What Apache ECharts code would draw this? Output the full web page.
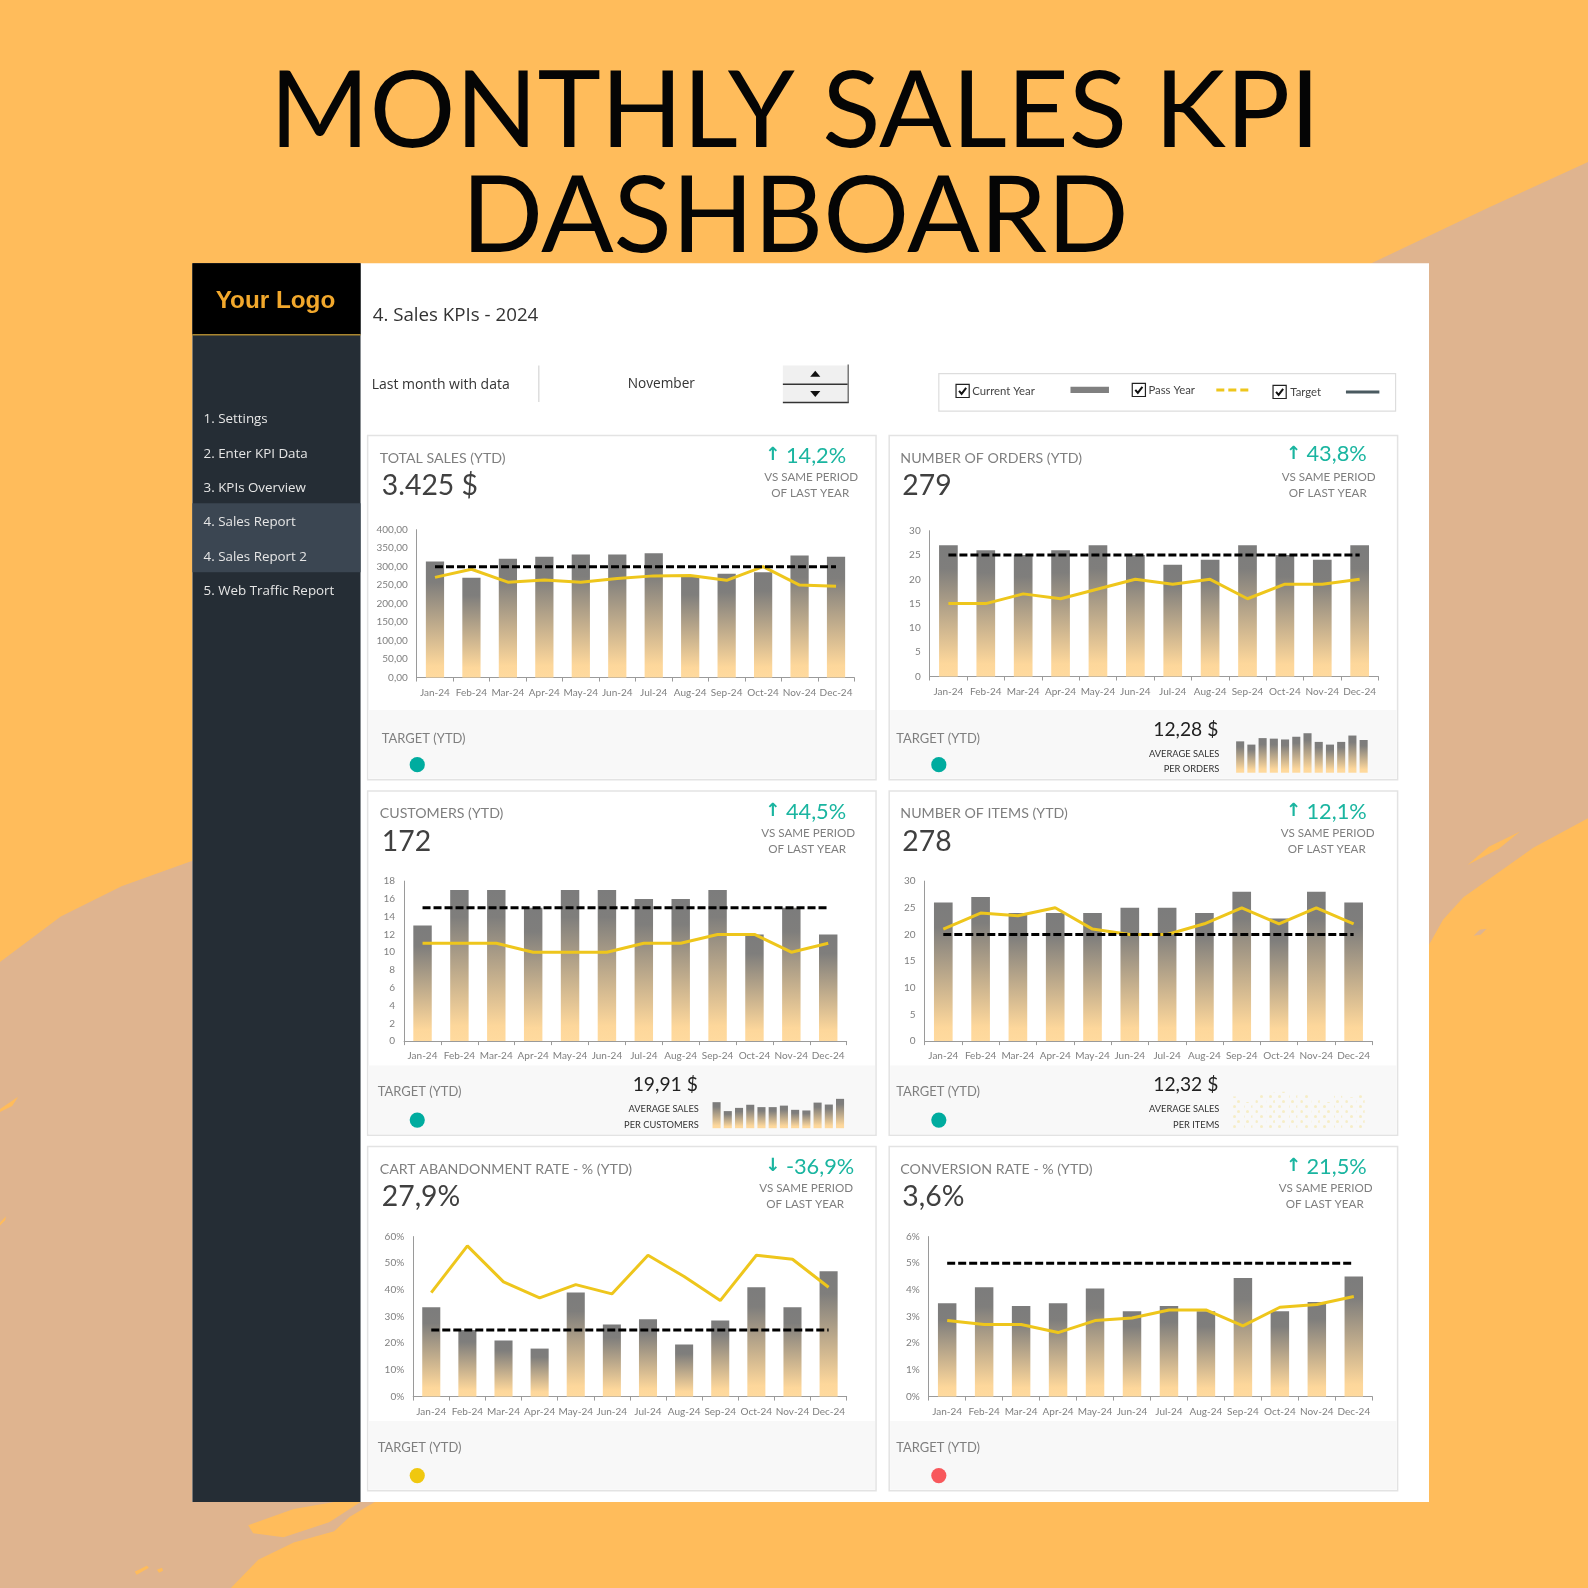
<!DOCTYPE html>
<html>
<head>
<meta charset="utf-8">
<title>Monthly Sales KPI Dashboard</title>
<script src="https://cdn.jsdelivr.net/npm/echarts@6/dist/echarts.min.js"></script>
<style>
html, body { margin: 0; padding: 0; background: #FFBC5B; }
#main { width: 1588px; height: 1588px; }
</style>
</head>
<body>
<div id="main"></div>
<script>
var months = ['Jan-24', 'Feb-24', 'Mar-24', 'Apr-24', 'May-24', 'Jun-24', 'Jul-24', 'Aug-24', 'Sep-24', 'Oct-24', 'Nov-24', 'Dec-24'];

var salesCurrent = [314, 270, 321, 327, 333, 333, 336, 273, 281, 285, 330, 327];
var salesPast = [271, 293, 258, 264, 258, 268, 275, 276, 263, 300, 250, 247];
var salesTarget = [300, 300, 300, 300, 300, 300, 300, 300, 300, 300, 300, 300];

var ordersCurrent = [27, 26, 25, 26, 27, 25, 23, 24, 27, 25, 24, 27];
var ordersPast = [15, 15, 17, 16, 18, 20, 19, 20, 16, 19, 19, 20];
var ordersTarget = [25, 25, 25, 25, 25, 25, 25, 25, 25, 25, 25, 25];

var customersCurrent = [13, 17, 17, 15, 17, 17, 16, 16, 17, 12, 15, 12];
var customersPast = [11, 11, 11, 10, 10, 10, 11, 11, 12, 12, 10, 11];
var customersTarget = [15, 15, 15, 15, 15, 15, 15, 15, 15, 15, 15, 15];

var itemsCurrent = [26, 27, 24, 24, 24, 25, 25, 24, 28, 23, 28, 26];
var itemsPast = [21, 24, 23.5, 25, 21, 20, 20, 22, 25, 22, 25, 22];
var itemsTarget = [20, 20, 20, 20, 20, 20, 20, 20, 20, 20, 20, 20];

var cartCurrent = [33.5, 25, 21, 18, 39, 27, 29, 19.5, 28.5, 41, 33.5, 47];
var cartPast = [39, 56.5, 43, 37, 42, 38.5, 53, 45, 36, 53, 51.5, 41];
var cartTarget = [25, 25, 25, 25, 25, 25, 25, 25, 25, 25, 25, 25];

var conversionCurrent = [3.5, 4.1, 3.4, 3.5, 4.05, 3.2, 3.4, 3.2, 4.45, 3.2, 3.55, 4.5];
var conversionPast = [2.85, 2.7, 2.7, 2.4, 2.85, 2.95, 3.25, 3.25, 2.65, 3.35, 3.45, 3.75];
var conversionTarget = [5, 5, 5, 5, 5, 5, 5, 5, 5, 5, 5, 5];

var avgPerOrder = [11.6, 10.4, 12.8, 12.6, 12.3, 13.3, 14.6, 11.4, 10.4, 11.4, 13.75, 12.1];
var avgPerCustomer = [24.2, 15.9, 18.9, 21.8, 19.6, 19.6, 21, 17.1, 16.5, 23.8, 22, 27.3];
var avgPerItem = [12.1, 10, 13.4, 13.6, 13.9, 13.3, 13.4, 11.4, 10, 12.4, 11.8, 12.6];

var menuItems = ['1. Settings', '2. Enter KPI Data', '3. KPIs Overview', '4. Sales Report', '4. Sales Report 2', '5. Web Traffic Report'];

// layout numbers are measured on a 1568 wide view, K brings them to the 1588 page
var K = 1588 / 1568;
var ORANGE = '#FFBC5B', TAN = '#DFB48F', TEAL = '#1AB5A0', GREY = '#7F7F7F', DARK = '#404040';
var BODY = 'Lato, "Open Sans", sans-serif';
var g = [];

function pts(list) {
    return list.map(function (p) { return [p[0] * K, p[1] * K]; });
}
function poly(list, color, smooth) {
    g.push({ type: 'polygon', silent: true, shape: { points: pts(list), smooth: smooth || 0 }, style: { fill: color } });
}
function box(x, y, w, h, fill, stroke, lw) {
    g.push({ type: 'rect', silent: true, shape: { x: x * K, y: y * K, width: w * K, height: h * K },
        style: { fill: fill || 'transparent', stroke: stroke || null, lineWidth: lw || 0 } });
}
function seg(x1, y1, x2, y2, color, lw, dash) {
    g.push({ type: 'line', silent: true, shape: { x1: x1 * K, y1: y1 * K, x2: x2 * K, y2: y2 * K },
        style: { stroke: color, lineWidth: lw, lineDash: dash || null } });
}
function dot(x, y, r, color) {
    g.push({ type: 'circle', silent: true, shape: { cx: x * K, cy: y * K, r: r * K }, style: { fill: color } });
}
function txt(x, y, text, size, color, align, font, weight) {
    g.push({ type: 'text', silent: true, z: 5, style: {
        x: x * K, y: (y + 1) * K, text: text, fontSize: size * K, fill: color,
        textAlign: align || 'left', textVerticalAlign: 'middle',
        fontFamily: font || BODY, fontWeight: weight || 'normal'
    } });
}

// background
box(0, 0, 1568, 1568, ORANGE);
poly([[1568, 160], [1470, 205], [1350, 262], [1350, 1000], [1412, 931], [1425, 908], [1445, 886], [1514, 837], [1568, 808]], TAN);
poly([[0, 950], [60, 905], [120, 875], [190, 850], [400, 850], [400, 1483], [370, 1483], [345, 1498], [330, 1512], [290, 1523], [255, 1540], [228, 1568], [0, 1568]], TAN);
poly([[1449, 854], [1470, 836], [1501, 821], [1480, 838]], ORANGE);
poly([[1455, 924], [1461, 918], [1468, 917], [1462, 923]], TAN);
poly([[356, 1483], [325, 1503], [280, 1518], [250, 1514], [245, 1506], [290, 1490], [330, 1483]], ORANGE);
poly([[0, 1095], [18, 1083], [12, 1092], [0, 1098]], ORANGE);
poly([[0, 1207], [6, 1201], [5, 1205], [0, 1210]], ORANGE);
poly([[133, 1552], [145, 1546], [147, 1548], [135, 1555]], ORANGE);
poly([[155, 1550], [160, 1548], [161, 1551], [157, 1553]], ORANGE);

// big title
txt(785, 109.5, 'MONTHLY SALES KPI', 106, '#050505', 'center');
txt(785, 214, 'DASHBOARD', 106, '#050505', 'center');

// sheet and sidebar
box(190, 260, 1221, 1223, '#FFFFFF');
box(190, 260, 166, 1223, '#252D35');
box(190, 260, 166, 70, '#000000');
seg(190, 330.5, 356, 330.5, '#A9852F', 1.5);
txt(272, 297, 'Your Logo', 24, '#F2A82C', 'center', '"Liberation Sans"', 'bold');
box(190, 497, 166, 68, '#3B4652');
menuItems.forEach(function (item, i) {
    txt(201, 413 + i * 34, item, 13.2, '#E6E6E6', 'left', '"Open Sans"');
});

// header row
txt(368, 310.5, '4. Sales KPIs - 2024', 18.5, '#333333', 'left', '"Open Sans"');
txt(367, 379, 'Last month with data', 13.8, '#333333', 'left', '"Open Sans"');
seg(532, 361, 532, 397, '#DDDDDD', 1.5);
txt(653, 378.5, 'November', 13.5, '#333333', 'center', '"Open Sans"');
box(773, 361, 64, 18, '#F0F0F0');
box(773, 380, 64, 17, '#F0F0F0');
seg(773, 379.5, 837, 379.5, '#333333', 1.5);
seg(773, 397.5, 838, 397.5, '#333333', 1.5);
seg(837.5, 360, 837.5, 398, '#555555', 1.2);
poly([[805, 366], [810, 372], [800, 372]], '#111111');
poly([[800, 386], [810, 386], [805, 392]], '#111111');

// fake legend box with the sheet's check boxes
function check(x, y) {
    box(x, y - 6.5, 13, 13, '#FFFFFF', '#222222', 1.2);
    g.push({ type: 'polyline', silent: true, z: 5, shape: { points: pts([[x + 3, y], [x + 5.5, y + 3], [x + 10, y - 3]]) },
        style: { stroke: '#111111', lineWidth: 2, fill: null } });
}
box(927, 369, 451, 37, '#FFFFFF', '#DDDDDD', 1.2);
check(944, 386);
txt(960, 385.5, 'Current Year', 11.2, '#444444');
box(1057, 382, 38, 6, '#808080');
check(1118, 385);
txt(1134, 384.5, 'Pass Year', 11.2, '#444444');
seg(1201, 385, 1235, 385, '#EEC61C', 3, [8, 4]);
check(1257, 387);
txt(1274, 386.5, 'Target', 11.2, '#444444');
seg(1329, 387, 1362, 387, '#4A5A60', 3);

function panelFrame(x, y) {
    box(x, y, 502, 340, '#FFFFFF', '#E3E3E3', 1.5);
    box(x + 1, y + 271, 500, 68, '#F8F8F8');
}
function panelText(p) {
    var y0 = p.y;
    txt(p.textX, y0 + 21.5, p.title, 14, GREY);
    txt(p.textX + 2, y0 + (p.bigDy || 49), p.big, 28, DARK);
    txt(p.arrowX, y0 + (p.changeDy || 19), p.arrow, 18, TEAL, 'center', '"DejaVu Sans"', 'bold');
    txt(p.arrowX + 13, y0 + (p.changeDy || 19.5), p.change, 21.5, TEAL);
    txt(p.vsX, y0 + (p.vsDy || 40.5), 'VS SAME PERIOD', 11.5, GREY, 'center');
    txt(p.vsX - 1, y0 + (p.vsDy || 40.5) + 16, 'OF LAST YEAR', 11.5, GREY, 'center');
    txt(p.targetX, y0 + p.targetDy - 0.5, 'TARGET (YTD)', 12.8, GREY);
    dot(p.dotX, y0 + p.dotDy, 7.5, p.dotColor);
    if (p.avg) {
        txt(p.avgX, y0 + p.avgDy - 0.5, p.avg, 19, '#222222', 'right');
        txt(p.avgX + 1, y0 + p.avgDy + 23.5, 'AVERAGE SALES', 9.2, '#333333', 'right');
        txt(p.avgX + 1, y0 + p.avgDy + 38.5, p.avgLabel, 9.2, '#333333', 'right');
    }
}

function fmtComma(v) { return v.toFixed(2).replace('.', ','); }
function fmtPct(v) { return v + '%'; }

var panels = [
    { x: 363, y: 430, textX: 375, title: 'TOTAL SALES (YTD)', big: '3.425 $', arrow: '↑', change: '14,2%', arrowX: 763, vsX: 801,
      targetX: 377, targetDy: 299, dotX: 412, dotDy: 325, dotColor: '#00AC9F',
      grid: [411.5, 843.5, 523, 669], current: salesCurrent, past: salesPast, target: salesTarget, max: 400, step: 50, fmt: fmtComma },
    { x: 878, y: 430, textX: 889, title: 'NUMBER OF ORDERS (YTD)', big: '279', arrow: '↑', change: '43,8%', arrowX: 1277, vsX: 1312, changeDy: 17.5,
      targetX: 885, targetDy: 299, dotX: 927, dotDy: 325, dotColor: '#00AC9F',
      avg: '12,28 $', avgLabel: 'PER ORDERS', avgX: 1203, avgDy: 290,
      grid: [918, 1361, 524, 668], current: ordersCurrent, past: ordersPast, target: ordersTarget, max: 30, step: 5,
      spark: avgPerOrder, sparkBox: [1219, 1352, 724, 763], sparkMax: 14.6 },
    { x: 363, y: 781, textX: 375, title: 'CUSTOMERS (YTD)', big: '172', arrow: '↑', change: '44,5%', arrowX: 763, vsX: 798,
      targetX: 373, targetDy: 297, dotX: 412, dotDy: 325, dotColor: '#00AC9F',
      avg: '19,91 $', avgLabel: 'PER CUSTOMERS', avgX: 689, avgDy: 290,
      grid: [399, 836, 870, 1028], current: customersCurrent, past: customersPast, target: customersTarget, max: 18, step: 2,
      spark: avgPerCustomer, sparkBox: [702, 835, 1085, 1114], sparkMax: 27.3 },
    { x: 878, y: 781, textX: 889, title: 'NUMBER OF ITEMS (YTD)', big: '278', arrow: '↑', change: '12,1%', arrowX: 1277, vsX: 1311,
      targetX: 885, targetDy: 297, dotX: 927, dotDy: 325, dotColor: '#00AC9F',
      avg: '12,32 $', avgLabel: 'PER ITEMS', avgX: 1203, avgDy: 290,
      grid: [913, 1355, 870, 1028], current: itemsCurrent, past: itemsPast, target: itemsTarget, max: 30, step: 5,
      spark: avgPerItem, sparkBox: [1216, 1349, 1078, 1114], sparkMax: 13.9, dotted: true },
    { x: 363, y: 1132, textX: 375, title: 'CART ABANDONMENT RATE - % (YTD)', big: '27,9%', arrow: '↓', change: '-36,9%', arrowX: 763, vsX: 796,
      targetX: 373, targetDy: 297, dotX: 412, dotDy: 325, dotColor: '#F0C80F',
      grid: [408, 836, 1221, 1379], current: cartCurrent, past: cartPast, target: cartTarget, max: 60, step: 10, fmt: fmtPct },
    { x: 878, y: 1132, textX: 889, title: 'CONVERSION RATE - % (YTD)', big: '3,6%', arrow: '↑', change: '21,5%', arrowX: 1277, vsX: 1309,
      targetX: 885, targetDy: 297, dotX: 927, dotDy: 325, dotColor: '#F8585C',
      grid: [917, 1355, 1221, 1379], current: conversionCurrent, past: conversionPast, target: conversionTarget, max: 6, step: 1, fmt: fmtPct }
];

var barFill = new echarts.graphic.LinearGradient(0, 0, 0, 1, [
    { offset: 0, color: '#7C7C7C' },
    { offset: 0.18, color: '#7F7E7C' },
    { offset: 0.9, color: '#FDD79B' },
    { offset: 1, color: '#FFDA9E' }
]);

var grids = [], xAxes = [], yAxes = [], series = [];
var axisColor = '#9A9A9A';

panels.forEach(function (p) {
    panelFrame(p.x, p.y);
    panelText(p);

    var idx = grids.length;
    grids.push({ left: p.grid[0] * K, width: (p.grid[1] - p.grid[0]) * K, top: p.grid[2] * K, height: (p.grid[3] - p.grid[2]) * K });
    xAxes.push({
        type: 'category', gridIndex: idx, data: months,
        axisLine: { lineStyle: { color: axisColor, width: 1 } },
        axisTick: { show: true, length: 4, lineStyle: { color: axisColor } },
        axisLabel: { interval: 0, color: GREY, fontSize: 10, fontFamily: BODY, margin: 10 }
    });
    yAxes.push({
        type: 'value', gridIndex: idx, min: 0, max: p.max, interval: p.step,
        splitLine: { show: false },
        axisLine: { show: true, lineStyle: { color: axisColor, width: 1 } },
        axisTick: { show: false },
        axisLabel: { color: GREY, fontSize: 10, fontFamily: BODY, margin: 9, formatter: p.fmt || '{value}' }
    });
    series.push({ name: 'Current Year', type: 'bar', xAxisIndex: idx, yAxisIndex: idx, data: p.current, barWidth: '50%', itemStyle: { color: barFill }, silent: true });
    series.push({ name: 'Pass Year', type: 'line', xAxisIndex: idx, yAxisIndex: idx, data: p.past, symbol: 'none', lineStyle: { color: '#EEC61C', width: 3 }, z: 3, silent: true });
    series.push({ name: 'Target', type: 'line', xAxisIndex: idx, yAxisIndex: idx, data: p.target, symbol: 'none', lineStyle: { color: '#000000', width: 3, type: [8, 3] }, z: 4, silent: true });

    if (p.spark) {
        var si = grids.length;
        grids.push({ left: p.sparkBox[0] * K, width: (p.sparkBox[1] - p.sparkBox[0]) * K, top: p.sparkBox[2] * K, height: (p.sparkBox[3] - p.sparkBox[2]) * K });
        xAxes.push({ type: 'category', gridIndex: si, data: months, show: false });
        yAxes.push({ type: 'value', gridIndex: si, min: 0, max: p.sparkMax, show: false });
        series.push({
            name: 'Average', type: 'bar', xAxisIndex: si, yAxisIndex: si, data: p.spark, barWidth: '72%', silent: true,
            itemStyle: p.dotted ? {
                color: '#F8F8F8',
                decal: { symbol: 'circle', symbolSize: 1, color: '#F6EDC6', dashArrayX: [[2.5, 5.5], [0, 4, 2.5, 1.5]], dashArrayY: [2.5, 1.5], rotation: 0, backgroundColor: '#F8F8F8' }
            } : { color: barFill }
        });
    }
});

var chart = echarts.init(document.getElementById('main'));
chart.setOption({
    animation: false,
    backgroundColor: ORANGE,
    graphic: { elements: g },
    grid: grids,
    xAxis: xAxes,
    yAxis: yAxes,
    series: series
});
</script>
</body>
</html>
